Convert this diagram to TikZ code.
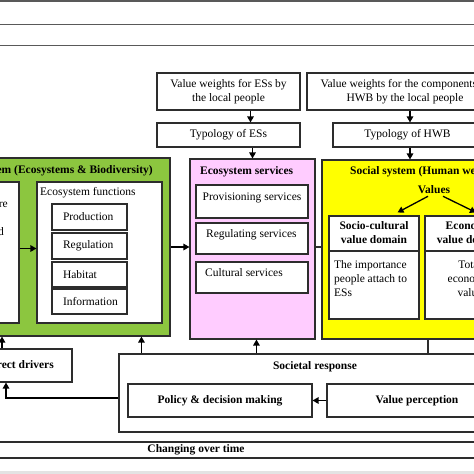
\documentclass[tikz,border=0pt]{standalone}
\usepackage{fontspec}
\setmainfont{Liberation Serif}
\usetikzlibrary{arrows.meta}
\definecolor{gfill}{RGB}{140,198,63}
\definecolor{pfill}{RGB}{255,204,255}
\definecolor{yfill}{RGB}{255,255,0}
\definecolor{edge}{RGB}{45,45,45}
\newcommand\bx[7]{\node[box,#6,minimum width={((#4)-(#2))*1pt},minimum height={((#5)-(#3))*1pt}] (#1) at ({((#2)+(#4))/2},{((#3)+(#5))/2}) {#7};}
\begin{document}
\begin{tikzpicture}[x=1pt,y=-1pt,
  font=\fontsize{11.5}{14}\selectfont,
  box/.style={draw=edge,line width=1.1pt,inner sep=0pt,align=center,rectangle},
  txt/.style={inner sep=0pt,align=center},
  btxt/.style={inner sep=0pt,align=center,font=\fontsize{11.5}{14}\selectfont\bfseries},
  arr/.style={-{Triangle[length=6pt,width=6.5pt]},line width=1.3pt,black},
  conn/.style={line width=1.1pt,edge}]
\useasboundingbox (0,0) rectangle (474,474);
\clip (0,0) rectangle (474,474);
% frame lines
\draw[line width=2.5pt,gray!70!black] (-10,1) -- (490,1);
\draw[line width=1pt,gray!70!black] (-10,24) -- (490,24);
\draw[line width=1pt,gray!70!black] (-10,45) -- (490,45);
\fill[gray!22] (-10,471) rectangle (490,480);
% top boxes
\bx{vw1}{157}{73}{300}{110}{}{Value weights for ESs by\\the local people}
\bx{vw2}{307}{73}{503}{110}{}{Value weights for the components of\\HWB by the local people}
\bx{typ1}{157}{123}{300}{147}{}{Typology of ESs}
\bx{typ2}{333}{123}{482}{147}{}{Typology of HWB}
% green system
\bx{green}{-30}{158}{170}{336}{fill=gfill}{}
\node[btxt,anchor=east] (gtitle) at (153,171) {Ecological system (Ecosystems \& Biodiversity)};
\bx{left}{-60}{182}{19}{323}{fill=white}{}
\node[txt,anchor=east] (lt1) at (8,205) {Ecosystem structure};
\node[txt,anchor=east] (lt2) at (4,232) {and};
\bx{efun}{37}{182}{162}{323}{fill=white}{}
\node[txt,anchor=west] (eft) at (40,193) {Ecosystem functions};
\bx{prod}{52}{204}{127}{230}{fill=white,align=left,text width=53pt}{Production}
\bx{reg}{52}{233}{127}{259}{fill=white,align=left,text width=53pt}{Regulation}
\bx{hab}{52}{262}{127}{287}{fill=white,align=left,text width=53pt}{Habitat}
\bx{info}{52}{289}{127}{314}{fill=white,align=left,text width=53pt}{Information}
% pink
\bx{pink}{190}{159}{315}{339}{fill=pfill}{}
\node[btxt,anchor=west] (ptitle) at (200,172) {Ecosystem services};
\bx{prov}{196}{185}{308}{218}{fill=white}{}
\bx{regs}{196}{223}{308}{254}{fill=white}{}
\bx{cult}{196}{262}{308}{293}{fill=white}{}
\node[txt] (provt) at (252,198) {Provisioning services};
\node[txt,anchor=west] (regst) at (206,235) {Regulating services};
\node[txt,anchor=west] (cultt) at (205,273) {Cultural services};
% yellow
\bx{yellow}{322}{160}{560}{339}{fill=yfill}{}
\node[btxt,anchor=west] (ytitle) at (350,172) {Social system (Human wellbeing)};
\node[btxt] (values) at (434,190) {Values};
\bx{socioh}{329}{216}{419}{251}{fill=white}{}
\bx{sociob}{329}{251}{419}{319}{fill=white}{}
\node[btxt] (sociot) at (374,233) {Socio-cultural\\value domain};
\node[txt,anchor=west,align=left] (sociobt) at (334,279) {The importance\\people attach to\\ESs};
\bx{econh}{425}{216}{515}{251}{fill=white}{}
\bx{econb}{425}{251}{515}{319}{fill=white}{}
\node[btxt] (econt) at (470,233) {Economic\\value domain};
\node[txt] (econbt) at (470,279) {Total\\economic\\value};
% societal response
\bx{societal}{119}{354}{560}{432}{}{}
\node[btxt] (soct) at (315,367) {Societal response};
\bx{policy}{128}{384}{312}{417}{}{\bfseries Policy \& decision making}
\bx{valperc}{327}{384}{507}{417}{}{\bfseries Value perception}
\bx{indirect}{-60}{349}{72}{382}{}{}
\node[btxt,anchor=east] (indt) at (54,365) {Indirect drivers};
% changing over time
\bx{change}{-10}{442}{490}{458}{}{}
\node[btxt] (chgt) at (196,450) {Changing over time};
% connectors
\draw[arr] ([xshift=22pt]vw1.south) -- ([xshift=22pt]typ1.north);
\draw[arr] (typ1.south -| pink.north) -- (pink.north);
\draw[arr] ([xshift=5pt]vw2.south) -- ([xshift=5pt]vw2.south |- typ2.north);
\draw[arr] ([xshift=5pt]vw2.south |- typ2.south) -- ([xshift=5pt]vw2.south |- yellow.north);
\draw[arr] ([yshift=4pt]left.east) -- ([yshift=4pt]efun.west);
\draw[arr] (green.east) -- (pink.west |- green.east);
\draw[conn] (pink.east |- green.east) -- (yellow.west |- green.east);
\draw[arr] ([xshift=-6pt,yshift=-2pt]values.south) -- ([xshift=-22pt,yshift=3pt]socioh.north east);
\draw[arr] ([xshift=9pt,yshift=-2pt]values.south) -- ([xshift=6pt,yshift=3pt]econh.north);
\draw[conn] ([xshift=-13pt]yellow.south) -- ([xshift=-13pt]yellow.south |- societal.north);
\draw[arr] ([xshift=23pt]societal.north west) -- ([xshift=23pt]societal.north west |- green.south);
\draw[arr] ([xshift=138pt]societal.north west) -- ([xshift=138pt]societal.north west |- pink.south);
\draw[arr] (valperc.west) -- (policy.east);
\draw[arr] ([yshift=-5pt]societal.west) -| (indirect.south);
\draw[arr] ([xshift=-4pt]indirect.north) -- ([xshift=-4pt]indirect.north |- green.south);
\end{tikzpicture}
\end{document}
